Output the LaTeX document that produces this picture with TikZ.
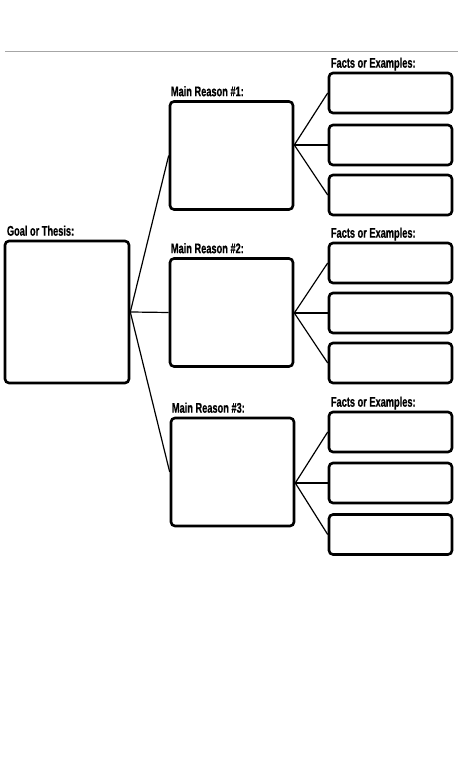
\documentclass[tikz,border=0pt]{standalone}
\usepackage{fontspec}
\newfontfamily\lblfont{Liberation Sans Bold}[FakeStretch=0.66, FakeBold=0.6]
\usepackage{tikz}
\usetikzlibrary{positioning}

\tikzset{
	box/.style={draw=black, line width=2.6pt, rounded corners=4pt, inner sep=0pt},
	goalbox/.style={box, minimum width=124pt, minimum height=142pt},
	reasonbox/.style={box, minimum width=123pt, minimum height=108pt},
	factbox/.style={box, minimum width=123pt, minimum height=40pt},
	lbl/.style={anchor=base west, inner sep=0pt, font=\lblfont\fontsize{14}{16}\selectfont},
	link/.style={line width=1.2pt}
}

\begin{document}
\begin{tikzpicture}[x=1pt, y=1pt]
	\useasboundingbox (0,0) rectangle (474,780);
	\draw[color=gray!70, line width=1pt] (5,728) -- (458,728);

	% boxes
	\node[goalbox] (goal) at (67,468) {};
	\node[reasonbox] (r1) at (231.5,624.5) {};
	\node[reasonbox] (r2) at (231.5,467.5) {};
	\node[reasonbox] (r3) at (232.5,308) {};

	\node[factbox] (f11) at (390.5,687) {};
	\node[factbox] (f12) at (390.5,635) {};
	\node[factbox] (f13) at (390.5,585) {};
	\node[factbox] (f21) at (390.5,517) {};
	\node[factbox] (f22) at (390.5,467) {};
	\node[factbox] (f23) at (390.5,417) {};
	\node[factbox] (f31) at (390.5,348) {};
	\node[factbox] (f32) at (390.5,297) {};
	\node[factbox] (f33) at (390.5,245.5) {};

	% labels
	\node[lbl] (goallbl) at ([shift={(3,4)}]goal.north west) {Goal or Thesis:};
	\node[lbl] (r1lbl) at ([shift={(2,4)}]r1.north west) {Main Reason \#1:};
	\node[lbl] (r2lbl) at ([shift={(2,4)}]r2.north west) {Main Reason \#2:};
	\node[lbl] (r3lbl) at ([shift={(2,4)}]r3.north west) {Main Reason \#3:};
	\node[lbl] (f1lbl) at ([shift={(3,4)}]f11.north west) {Facts or Examples:};
	\node[lbl] (f2lbl) at ([shift={(3,4)}]f21.north west) {Facts or Examples:};
	\node[lbl] (f3lbl) at ([shift={(3,4)}]f31.north west) {Facts or Examples:};

	% connectors
	\foreach \r in {1,2,3}
		\draw[link] (goal.east) -- (r\r.west);
	\foreach \r in {1,2,3}
		\foreach \f in {1,2,3}
			\draw[link] (r\r.east |- f\r2.west) -- (f\r\f.west);
\end{tikzpicture}
\end{document}
